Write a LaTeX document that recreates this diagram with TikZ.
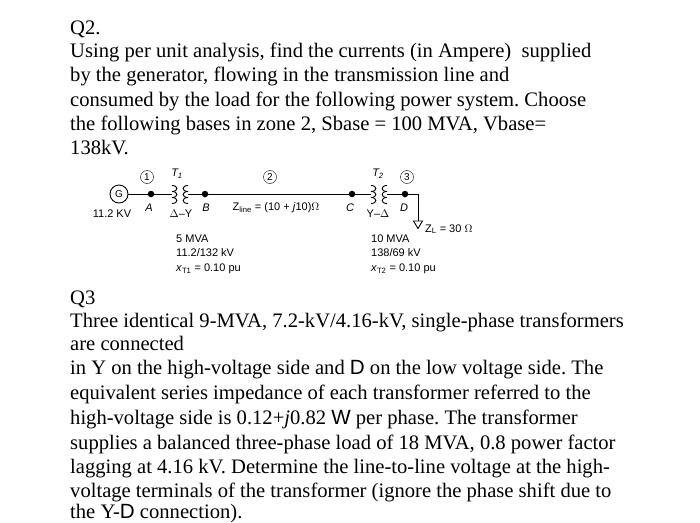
\documentclass[tikz,border=0pt]{standalone}
\usepackage{fontspec}
\setmainfont{Liberation Serif}
\setsansfont{Liberation Sans}
\begin{document}
\frenchspacing
\begin{tikzpicture}[x=1pt,y=-1pt,
  para/.style={anchor=base west,inner sep=0pt,font=\fontsize{20.6}{22}\selectfont},
  lab/.style={inner sep=0pt,font=\sffamily\fontsize{11}{12}\selectfont},
  dot/.style={circle,fill,inner sep=0pt,minimum size=6.5pt},
  circ/.style={circle,draw,inner sep=0pt,minimum size=13pt,font=\sffamily\fontsize{10}{11}\selectfont},
  wire/.style={line width=0.9pt}]
\useasboundingbox (0,0) rectangle (700,522);
\node[para] (q2) at (70,34) {Q2.};
\node[para] (l1) at (70,57) {Using per unit analysis, find the currents (in Ampere)\ \ supplied};
\node[para] (l2) at (70,81) {by the generator, flowing in the transmission line and};
\node[para] (l3) at (70,106) {consumed by the load for the following power system. Choose};
\node[para] (l4) at (70,130) {the following bases in zone 2, Sbase = 100 MVA, Vbase=};
\node[para] (l5) at (70,154) {138kV.};
% circuit
\node[circle,draw,wire,minimum size=18pt,inner sep=0pt,font=\sffamily\fontsize{10}{11}\selectfont] (G) at (119,194) {G};
\node[dot] (A) at (151,194) {};
\node[dot] (B) at (205,194) {};
\node[dot] (C) at (352,194) {};
\node[dot] (D) at (405,194) {};
\coordinate (t1l) at (172,194);
\coordinate (t1r) at (188,194);
\coordinate (t2l) at (371,194);
\coordinate (t2r) at (387,194);
\coordinate (lc) at (418,194);
\coordinate (lb) at (418,221);
\draw[wire] (G) -- (A) -- (t1l);
\draw[wire] (t1r) -- (B) -- (C) -- (t2l);
\draw[wire] (t2r) -- (D) -- (lc) -- (lb);
\foreach \x in {172,371}{
  \foreach \y in {185.5,191.5,197.5}{
    \draw[wire] (\x,\y) .. controls (\x+6.5,\y) and (\x+6.5,\y+6) .. (\x,\y+6);
    \draw[wire] (\x+16,\y) .. controls (\x+9.5,\y) and (\x+9.5,\y+6) .. (\x+16,\y+6);
  }
}
\draw[wire] (lb) -- ++(-4.5,0) -- ++(4.5,7.5) -- ++(4.5,-7.5) -- cycle;
\node[circ] (n1) at (147,177) {1};
\node[circ] (n2) at (270,177) {2};
\node[circ] (n3) at (407,177) {3};
\node[lab] (T1) at (177,174) {\itshape T\textsubscript{1}};
\node[lab] (T2) at (378,174) {\itshape T\textsubscript{2}};
\node[lab] (kv) at (112,214) {11.2 KV};
\node[lab] (la) at (149,208) {\itshape A};
\node[lab] (dy) at (181,214) {$\Delta$--Y};
\node[lab] (lbb) at (206,208) {\itshape B};
\node[lab] (zl) at (276,208) {Z\textsubscript{line} = (10 + \textit{j}10)$\Omega$};
\node[lab] (lcc) at (350,208) {\itshape C};
\node[lab] (yd) at (378,214) {Y--$\Delta$};
\node[lab] (ld) at (404,208) {\itshape D};
\node[lab,anchor=west] (zload) at (425,229) {Z\textsubscript{L} = 30 $\Omega$};
\node[lab,anchor=north west,align=left] (r1) at (176,235) {5 MVA\\[2pt]11.2/132 kV\\[3pt]\textit{x}\textsubscript{T1} = 0.10 pu};
\node[lab,anchor=north west,align=left] (r2) at (371,235) {10 MVA\\[2pt]138/69 kV\\[3pt]\textit{x}\textsubscript{T2} = 0.10 pu};
% Q3
\node[para] (q3) at (70,304) {Q3};
\node[para] (m1) at (70,327) {Three identical 9-MVA, 7.2-kV/4.16-kV, single-phase transformers};
\node[para] (m2) at (70,350) {are connected};
\node[para] (m3) at (70,374) {in Y on the high-voltage side and {\sffamily D} on the low voltage side. The};
\node[para] (m4) at (70,399) {equivalent series impedance of each transformer referred to the};
\node[para] (m5) at (70,424) {high-voltage side is 0.12+\textit{j}0.82 {\sffamily W} per phase. The transformer};
\node[para] (m6) at (70,449) {supplies a balanced three-phase load of 18 MVA, 0.8 power factor};
\node[para] (m7) at (70,473) {lagging at 4.16 kV. Determine the line-to-line voltage at the high-};
\node[para] (m8) at (70,497) {voltage terminals of the transformer (ignore the phase shift due to};
\node[para] (m9) at (70,518) {the Y-{\sffamily D} connection).};
\end{tikzpicture}
\end{document}
